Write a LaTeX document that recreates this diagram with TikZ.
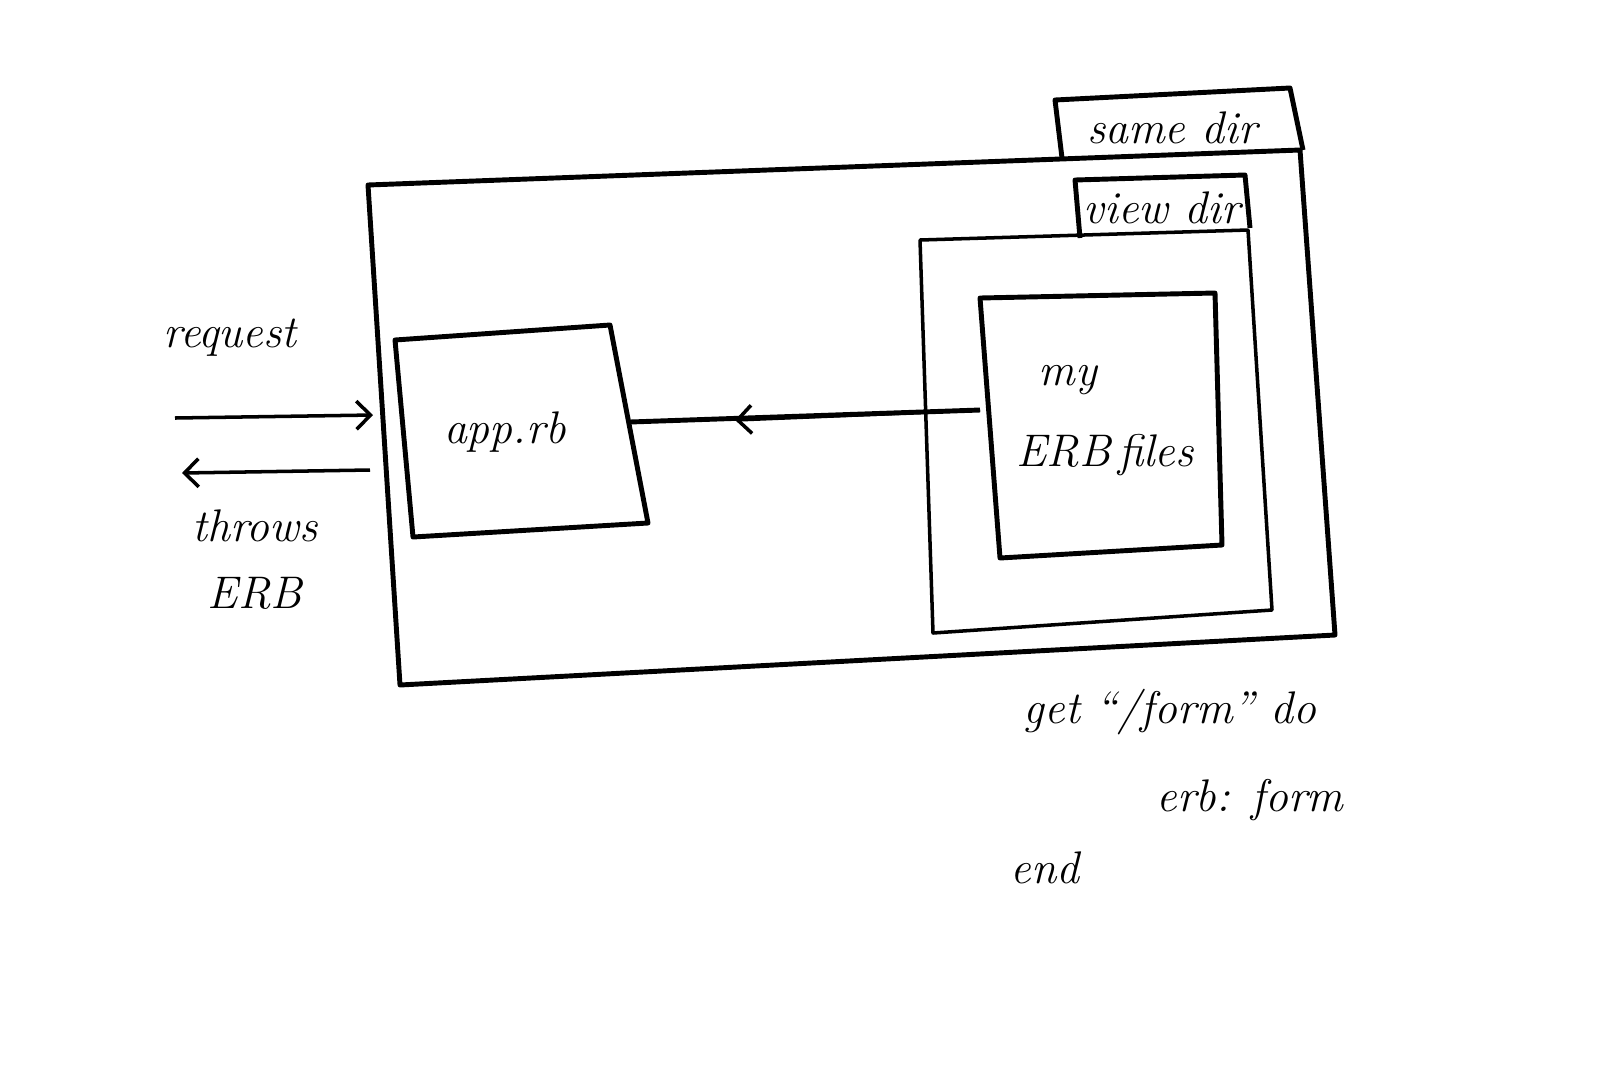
\documentclass[tikz,border=0pt]{standalone}
\usetikzlibrary{arrows.meta}
\begin{document}
\begin{tikzpicture}[x=0.01cm,y=-0.01cm,
  box/.style={line width=1.4pt,line join=round},
  thin/.style={line width=1pt,line join=round},
  lbl/.style={font=\itshape\fontsize{13}{15}\selectfont},
  conn/.style={line width=1pt,-{Straight Barb[length=4pt,width=8pt]}}]
\useasboundingbox (0,0) rectangle (1600,1066);
% same dir
\draw[box] (368,185) -- (1300,150) -- (1335,635) -- (400,685) -- cycle;
\draw[box] (1062,158) -- (1055,100) -- (1290,88) -- (1303,150);
\node[lbl] (same) at (1172,128) {same dir};
% view dir
\draw[thin] (920,240) -- (1248,230) -- (1272,610) -- (933,633) -- cycle;
\draw[box] (1080,238) -- (1075,180) -- (1245,175) -- (1250,228);
\node[lbl] (view) at (1162,208) {view dir};
% erb files
\draw[box] (980,298) -- (1215,293) -- (1222,545) -- (1000,558) -- cycle;
\node[lbl] (my) at (1068,380) {my};
\node[lbl] (erb) at (1105,455) {ERB\,files};
\coordinate (erbL) at (980,410);
% app.rb
\draw[box] (395,340) -- (610,325) -- (648,523) -- (413,537) -- cycle;
\node[lbl] (app) at (505,432) {app.rb};
\coordinate (appR) at (630,422);
\coordinate (mid) at (735,420);
\draw[box] (erbL) -- (appR);
\draw[conn] (erbL) -- (mid);
% request / throws
\coordinate (r1) at (175,418); \coordinate (r2) at (373,415);
\coordinate (t1) at (370,470); \coordinate (t2) at (182,473);
\draw[conn] (r1) -- (r2);
\draw[conn] (t1) -- (t2);
\node[lbl] (req) at (230,338) {request};
\node[lbl,align=center] (thr) at (255,560) {throws\\[4pt]ERB};
% code
\node[lbl] (c1) at (1170,712) {get ``/form'' do};
\node[lbl] (c2) at (1250,800) {erb: form};
\node[lbl] (c3) at (1045,868) {end};
\end{tikzpicture}
\end{document}
